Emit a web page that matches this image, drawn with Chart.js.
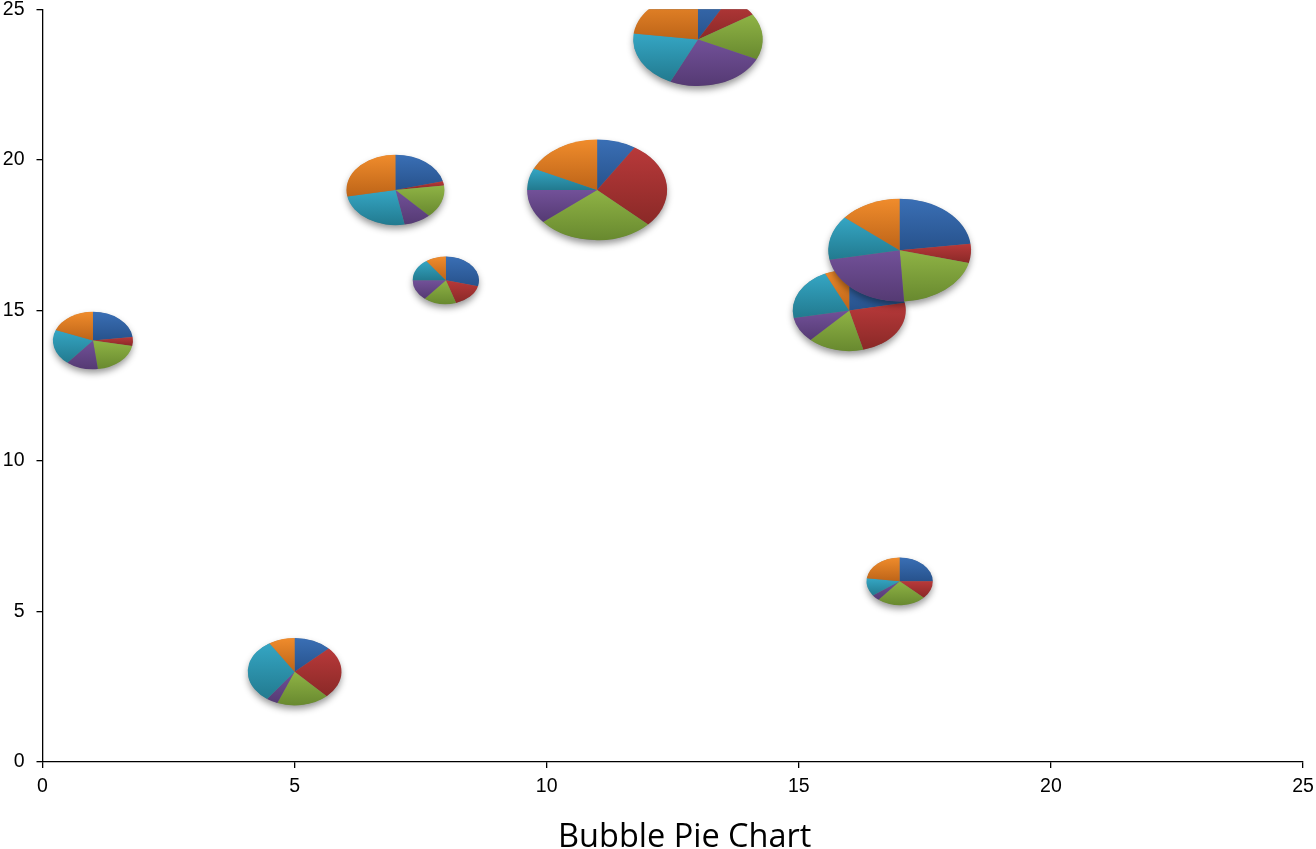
<!DOCTYPE html>
<html><head><meta charset="utf-8">
<script src="https://cdn.jsdelivr.net/npm/chart.js@4.4.0/dist/chart.umd.min.js"></script>
<style>html,body{margin:0;padding:0;background:#fff;overflow:hidden}#wrap{width:1316px;height:849px;position:relative}</style>
</head><body><div id="wrap"><canvas id="c"></canvas></div>
<script>
// ---- data ----
const xValues = [1, 5, 7, 8, 11, 13, 16, 17, 17];
const yValues = [14, 3, 19, 16, 19, 24, 15, 17, 6];
const bubbleSizes = [16, 22, 24, 11, 49, 42, 32, 51, 11];
// slice values per bubble (same order as xValues)
const series1 = [23, 13, 21, 29, 9, 8, 22, 23, 25];
const series2 = [5, 25, 2, 16, 28, 8, 24, 6, 12];
const series3 = [20, 18, 15, 16, 27, 16, 16, 20, 24];
const series4 = [13, 4, 9, 14, 11, 25, 10, 23, 4];
const series5 = [20, 31, 25, 15, 7, 20, 21, 14, 12];
const series6 = [19, 9, 28, 10, 18, 23, 7, 14, 23];
const xTicks = [0, 5, 10, 15, 20, 25];
const yTicks = [0, 5, 10, 15, 20, 25];
const chartTitle = 'Bubble Pie Chart';

// ---- styles ----
const sliceSeries = [series1, series2, series3, series4, series5, series6];
const sliceColors = [
  ['#3a6fb5', '#27528c'],
  ['#b8393a', '#8a2927'],
  ['#8fb345', '#68892f'],
  ['#725199', '#553a73'],
  ['#35a6c4', '#227a8f'],
  ['#f08c2c', '#bd6418']
];
const RADIUS_UNIT = 10;
const TILT = 0.72;

const piePlugin = {
  id: 'bubblePies',
  afterDatasetsDraw(chart) {
    const ctx = chart.ctx, area = chart.chartArea;
    const meta = chart.getDatasetMeta(0);
    ctx.save();
    ctx.beginPath();
    ctx.rect(area.left, area.top, area.right - area.left, area.bottom - area.top);
    ctx.clip();
    meta.data.forEach((pt, i) => {
      const cx = pt.x, cy = pt.y;
      const r = RADIUS_UNIT * Math.sqrt(bubbleSizes[i]);
      const vals = sliceSeries.map(s => s[i]);
      const total = vals.reduce((a, b) => a + b, 0);
      // shadow
      ctx.save();
      ctx.translate(cx, cy); ctx.scale(1, TILT);
      ctx.shadowColor = 'rgba(0,0,0,0.42)';
      ctx.shadowBlur = 7; ctx.shadowOffsetY = 4;
      ctx.beginPath(); ctx.arc(0, 0, r - 0.5, 0, Math.PI * 2);
      ctx.fillStyle = '#777'; ctx.fill();
      ctx.restore();
      let a = -Math.PI / 2;
      vals.forEach((v, k) => {
        const b = a + v / total * Math.PI * 2;
        let minY = 0, maxY = 0;
        for (let s = 0; s <= 40; s++) {
          const t = a + (b - a) * s / 40;
          const yy = Math.sin(t) * r;
          if (yy < minY) minY = yy;
          if (yy > maxY) maxY = yy;
        }
        if (maxY - minY < 1) { maxY += 1; }
        ctx.save();
        ctx.translate(cx, cy); ctx.scale(1, TILT);
        const g = ctx.createLinearGradient(0, minY, 0, maxY);
        g.addColorStop(0, sliceColors[k][0]);
        g.addColorStop(1, sliceColors[k][1]);
        ctx.beginPath();
        ctx.moveTo(0, 0);
        ctx.arc(0, 0, r, a, b);
        ctx.closePath();
        ctx.fillStyle = g;
        ctx.fill();
        ctx.restore();
        a = b;
      });
    });
    ctx.restore();
  },
  afterDraw(chart) {
    const ctx = chart.ctx;
    ctx.save();
    ctx.font = '32.5px "Open Sans"';
    ctx.fillStyle = '#000';
    ctx.textAlign = 'center';
    ctx.textBaseline = 'alphabetic';
    const xs = chart.scales.x;
    ctx.fillText(chartTitle, (xs.left + xs.right) / 2 + 12, 847);
    ctx.restore();
  }
};

const points = xValues.map((x, i) => ({ x: x, y: yValues[i] }));

const tickFont = { family: '"Liberation Sans", Arial, sans-serif', size: 19.5 };
new Chart(document.getElementById('c'), {
  type: 'scatter',
  data: { datasets: [{ data: points, pointRadius: 0, pointHoverRadius: 0, showLine: false }] },
  options: {
    responsive: true, maintainAspectRatio: false, animation: false,
    devicePixelRatio: 1,
    layout: { padding: 0 },
    plugins: { legend: { display: false }, tooltip: { enabled: false }, title: { display: false } },
    scales: {
      x: {
        type: 'linear', min: 0, max: 25,
        afterBuildTicks: s => { s.ticks = xTicks.map(v => ({ value: v })); },
        afterFit: s => { s.height = 87; s.paddingLeft = 0; s.paddingRight = 13; },
        border: { color: '#000', width: 1.3 },
        grid: { drawOnChartArea: false, drawTicks: true, tickLength: 6, color: '#000', lineWidth: 1.3 },
        ticks: { color: '#000', font: tickFont, padding: 7, maxRotation: 0 }
      },
      y: {
        type: 'linear', min: 0, max: 25,
        afterBuildTicks: s => { s.ticks = yTicks.map(v => ({ value: v })); },
        afterFit: s => { s.width = 42.5; s.paddingTop = 9.3; s.paddingBottom = 0; },
        border: { color: '#000', width: 1.3 },
        grid: { drawOnChartArea: false, drawTicks: true, tickLength: 6, color: '#000', lineWidth: 1.3 },
        ticks: { color: '#000', font: tickFont, padding: 12 }
      }
    }
  },
  plugins: [piePlugin]
});
</script>
</body></html>
